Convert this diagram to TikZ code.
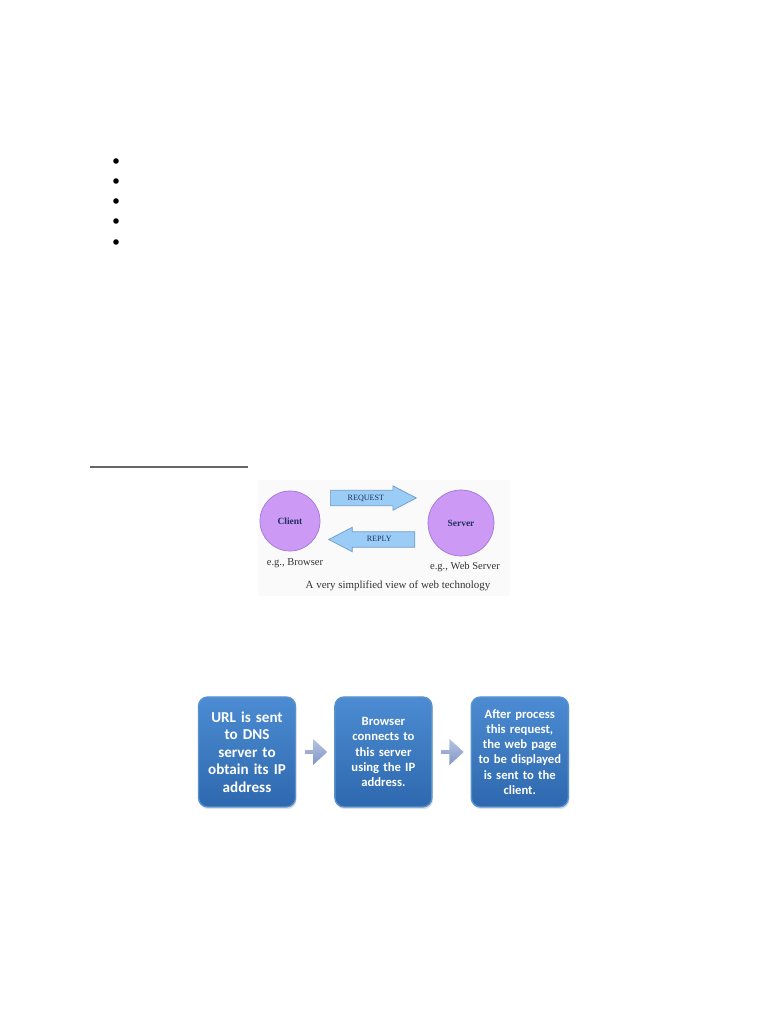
\documentclass[tikz,border=0pt]{standalone}
\usepackage{fontspec}
\setmainfont{Liberation Serif}
\newfontfamily\boxfont{Carlito}
\usepackage{xcolor}
\usetikzlibrary{positioning,shapes.arrows,shadows}
\definecolor{NodeViolet}{HTML}{CC99F5}
\definecolor{NodeEdge}{HTML}{A077D8}
\definecolor{PipeBlue}{HTML}{9ACCF5}
\definecolor{PipeEdge}{HTML}{6C9CCC}
\definecolor{InkNavy}{HTML}{1F3060}
\definecolor{StepTop}{HTML}{4C8CD2}
\definecolor{StepBot}{HTML}{2E68AE}
\definecolor{StepEdge}{HTML}{5A92CE}
\definecolor{ChevTop}{HTML}{B4C4E2}
\definecolor{ChevBot}{HTML}{8296C4}

\begin{document}
\begin{tikzpicture}[
    party/.style={circle, draw=NodeEdge, line width=0.2pt, fill=NodeViolet,
      minimum size=#1, inner sep=0pt, font=\fontsize{2.7pt}{3pt}\selectfont\bfseries, text=InkNavy},
    pipe/.style={single arrow, draw=PipeEdge, line width=0.2pt, fill=PipeBlue,
      minimum height=0.86cm, single arrow head extend=0.045cm, single arrow tip angle=55,
      single arrow head indent=0pt, inner xsep=1pt, inner ysep=1.1pt,
      text height=1.6pt, text depth=0.4pt, font=\fontsize{2.3pt}{2.6pt}\selectfont, text=InkNavy},
    note/.style={inner sep=0.5pt, font=\fontsize{3pt}{3.4pt}\selectfont, text=black!80},
    stepbox/.style={rounded corners=2.6pt, draw=StepEdge, line width=0.4pt,
      top color=StepTop, bottom color=StepBot, drop shadow={opacity=0.25, shadow xshift=0.3pt, shadow yshift=-0.6pt},
      minimum width=0.97cm, minimum height=1.10cm, align=center, text=white,
      text width=0.92cm, inner sep=0pt},
    chev/.style={single arrow, top color=ChevTop, bottom color=ChevBot, draw=none,
      minimum height=0.22cm, minimum width=0.26cm, single arrow head extend=0.04cm,
      single arrow tip angle=85, inner sep=0pt}
  ]
    \useasboundingbox (0,0) rectangle (7.68,10.24);

    % bullet list
    \foreach \by [count=\i] in {8.63,8.43,8.23,8.03,7.82}
      \fill (1.16,\by) circle (0.028) coordinate (dot\i);

    \draw[gray!80!black, line width=0.5pt] (0.90,5.57) -- (2.48,5.57);

    % client / server picture
    \fill[black!2] (2.58,4.28) rectangle (5.10,5.44);
    \node[party=0.60cm] (client) at (2.90,5.03) {Client};
    \node[party=0.66cm] (server) at (4.61,5.01) {Server};
    \node[pipe, anchor=tail] (req) at (3.30,5.26) {REQUEST};
    \node[pipe, shape border rotate=180, anchor=tip] (rep) at (3.28,4.845) {REPLY};
    \node[note, below=0.05cm of client, xshift=0.05cm] (cli) {e.g., Browser};
    \node[note, below=0.03cm of server, xshift=0.04cm] (srv) {e.g., Web Server};
    \node[note, font=\fontsize{3.1pt}{3.5pt}\selectfont] (cap) at (3.98,4.38) {A very simplified view of web technology};

    % steps
    \node[stepbox, font=\boxfont\fontsize{4.3pt}{5pt}\selectfont\bfseries] (url) at (2.47,2.72)
      {URL is sent\\to DNS\\server to\\obtain its IP\\address};
    \node[stepbox, right=0.38cm of url, font=\boxfont\fontsize{3.6pt}{4.3pt}\selectfont\bfseries] (conn)
      {Browser\\connects to\\this server\\using the IP\\address.};
    \node[stepbox, right=0.38cm of conn, font=\boxfont\fontsize{3.6pt}{4.3pt}\selectfont\bfseries] (done)
      {After process\\this request,\\the web page\\to be displayed\\is sent to the\\client.};

    \path (url) -- (conn) node[midway, chev] (c1) {};
    \path (conn) -- (done) node[midway, chev] (c2) {};
\end{tikzpicture}
\end{document}
